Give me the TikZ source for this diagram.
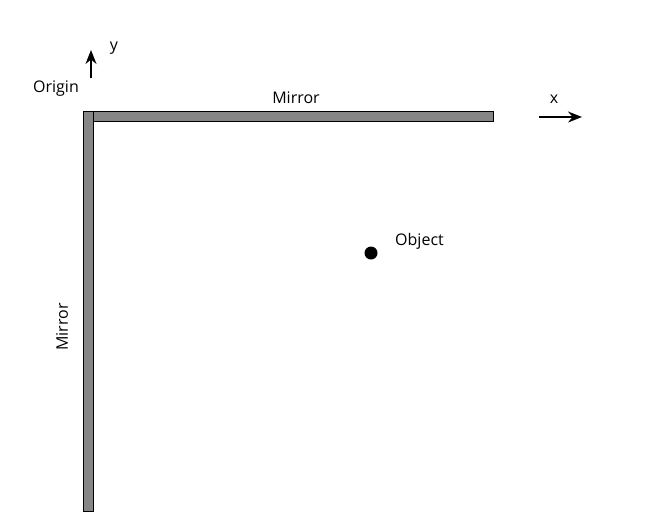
\documentclass[tikz,border=0pt]{standalone}
\usepackage{fontspec}
\setmainfont{Open Sans}
\usetikzlibrary{arrows.meta}
\begin{document}
\begin{tikzpicture}[x=1pt,y=-1pt,
  mirror/.style={draw=black,fill=gray!95!white,line width=1pt},
  lbl/.style={font=\fontsize{16}{19}\selectfont,inner sep=0pt},
  arr/.style={-{Stealth[length=14pt,width=11pt]},line width=1.6pt}]
\useasboundingbox (0,0) rectangle (652,528);
\path[mirror] (83,111) rectangle (493,121);
\path[mirror] (83,111) rectangle (93,511);
\coordinate (ys) at (91,78); \coordinate (ye) at (91,50);
\draw[arr] (ys) -- (ye);
\node[lbl] (ylab) at (114,48) {y};
\node[lbl] (orig) at (56,89) {Origin};
\node[lbl] (m1) at (296,98) {Mirror};
\node[lbl,rotate=90] (m2) at (62,327) {Mirror};
\coordinate (xs) at (539,117); \coordinate (xe) at (582,117);
\draw[arr] (xs) -- (xe);
\node[lbl] (xlab) at (554,99) {x};
\node[circle,fill=black,minimum size=13pt,inner sep=0pt] (obj) at (371,253) {};
\node[lbl,anchor=west] (objlab) at (395,241) {Object};
\end{tikzpicture}
\end{document}
